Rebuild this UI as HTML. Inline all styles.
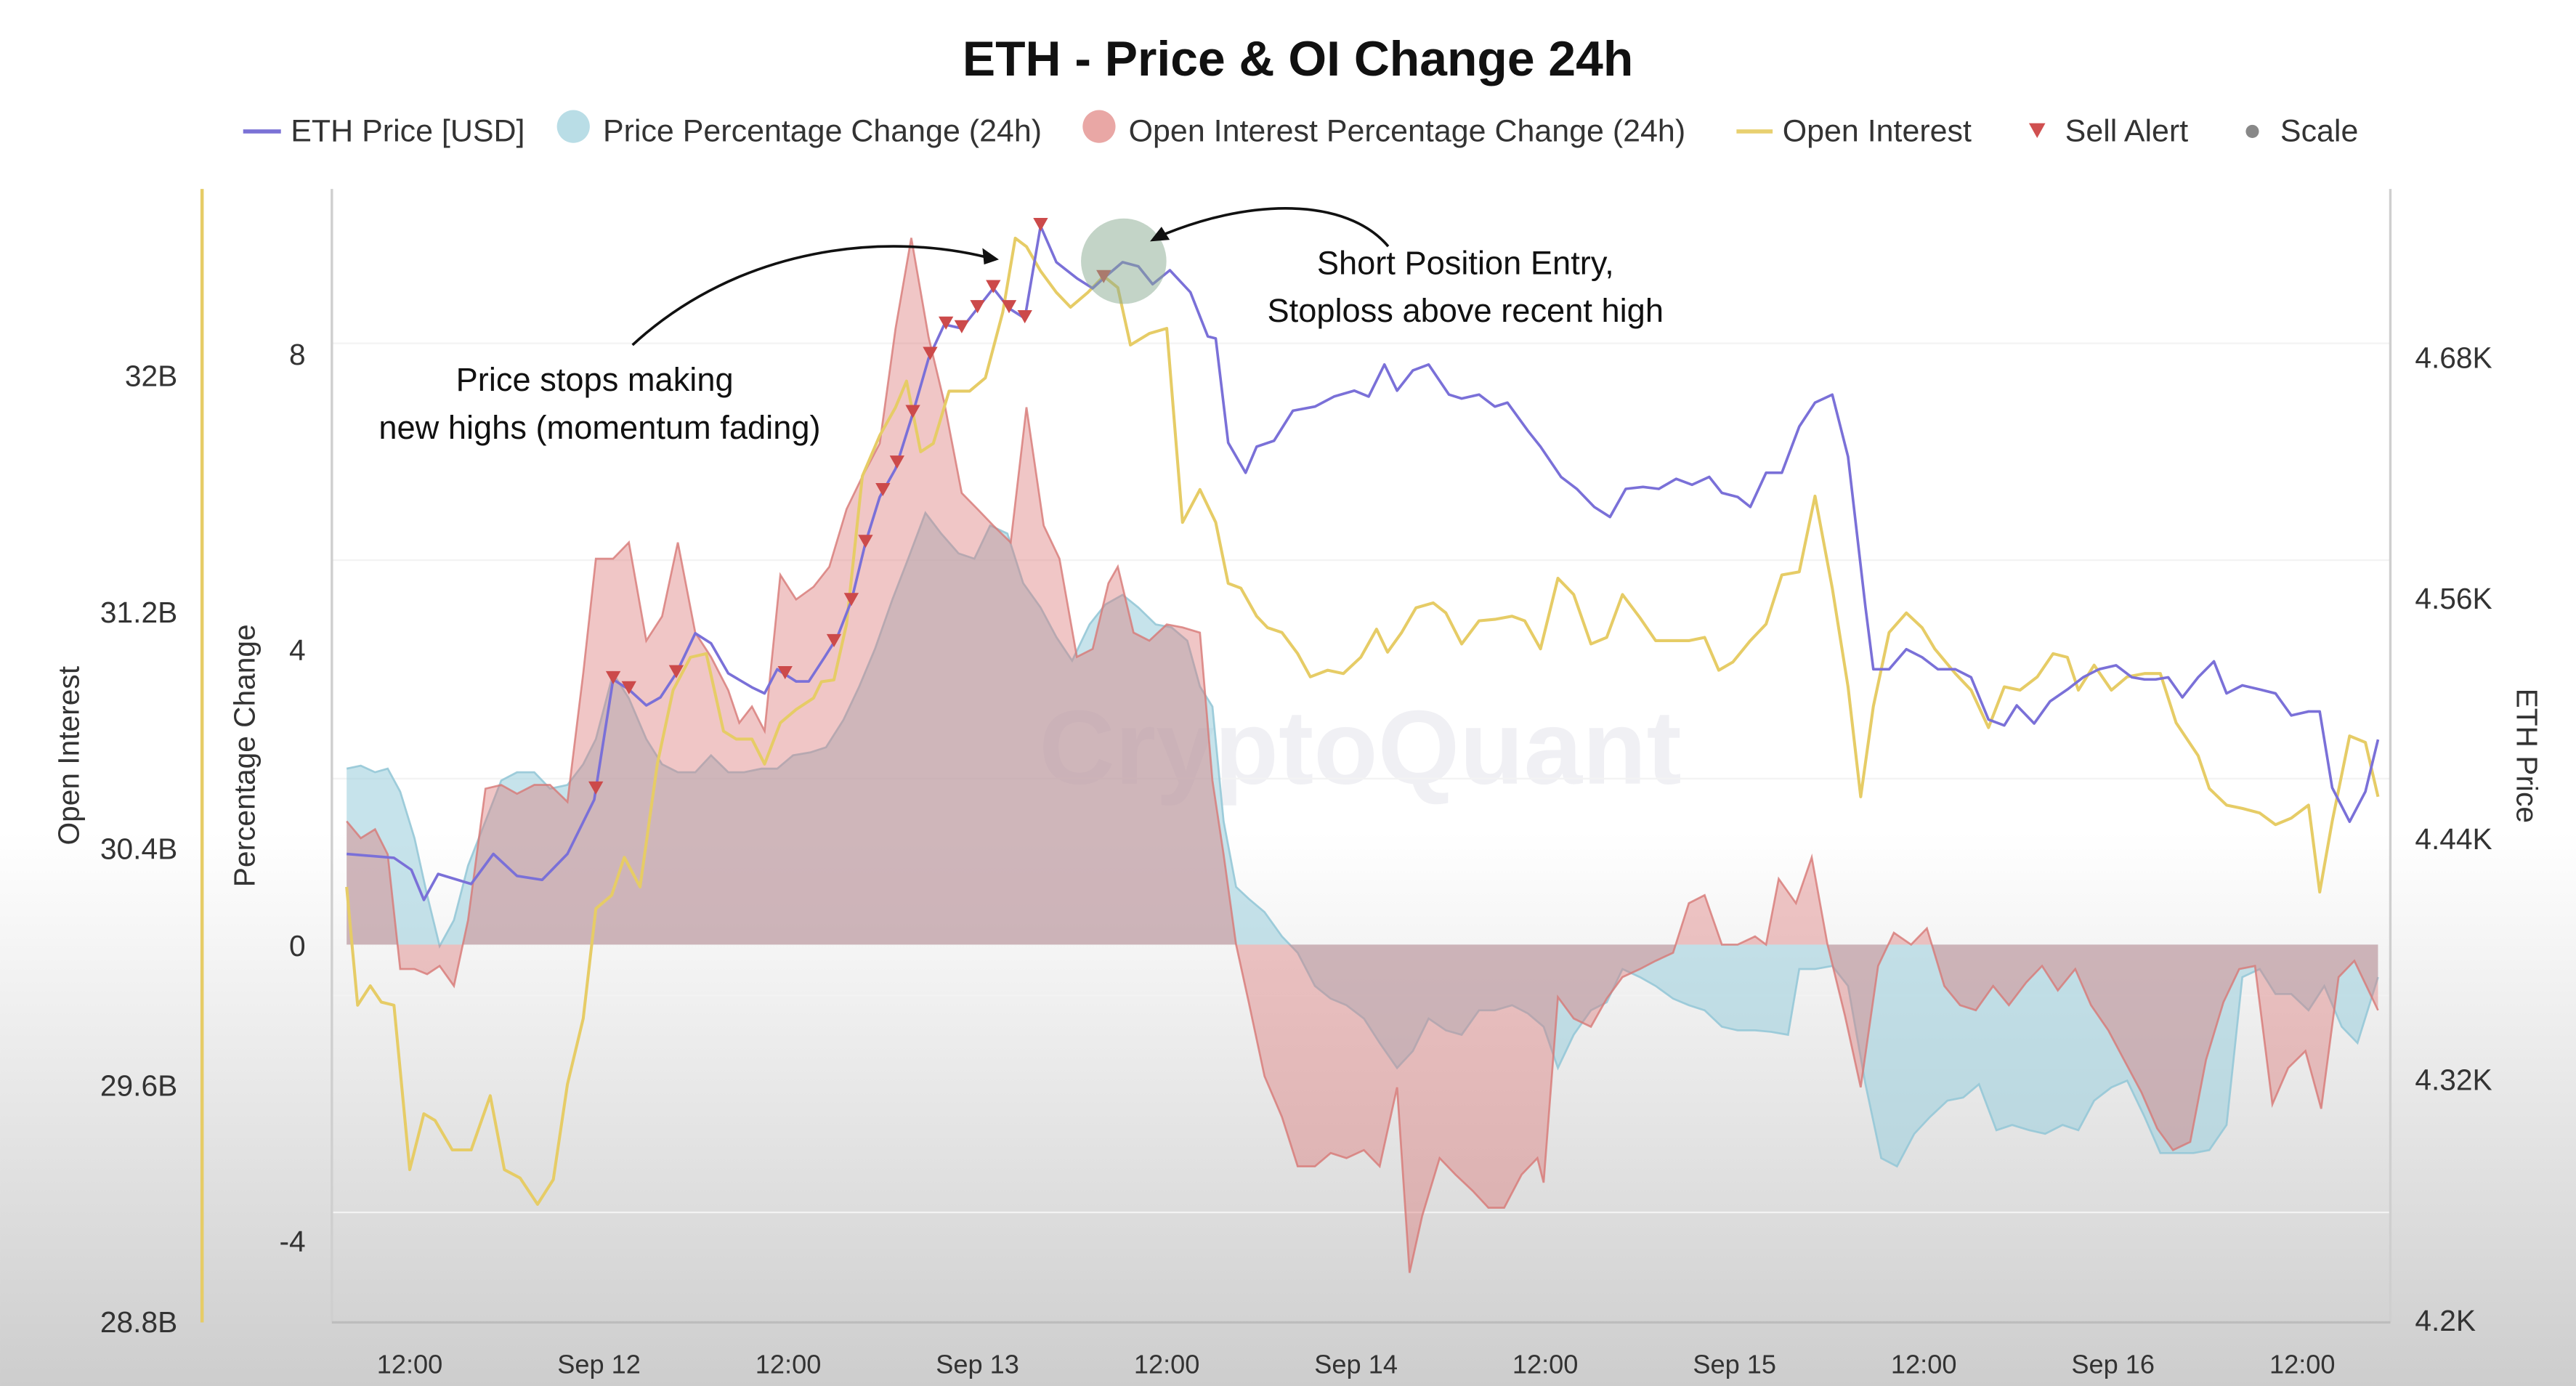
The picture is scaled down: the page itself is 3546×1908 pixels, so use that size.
<!DOCTYPE html>
<html><head><meta charset="utf-8"><style>
html,body{margin:0;padding:0;background:#fff;}
svg{display:block;font-family:"Liberation Sans","DejaVu Sans",sans-serif;}
</style></head><body>
<svg id="chart" width="3546" height="1908" viewBox="0 0 1568 843.7" xmlns="http://www.w3.org/2000/svg">
<defs>
<linearGradient id="bg" x1="0" y1="0" x2="0" y2="1">
<stop offset="0" stop-color="#ffffff"/><stop offset="0.6" stop-color="#ffffff"/><stop offset="0.72" stop-color="#f0f0f0"/><stop offset="1" stop-color="#cdcdcd"/>
</linearGradient>
</defs>
<rect x="0" y="0" width="1568" height="844" fill="url(#bg)"/>
<text x="790" y="46" text-anchor="middle" font-size="30" font-weight="bold" fill="#111">ETH - Price &amp; OI Change 24h</text>
<g id="legend" font-size="19" fill="#333">
<g><line x1="148" y1="80" x2="171" y2="80" stroke="#7b72d6" stroke-width="2.5"/><text x="177" y="86">ETH Price [USD]</text></g>
<g><circle cx="349" cy="77" r="10" fill="#b9dde6"/><text x="367" y="86">Price Percentage Change (24h)</text></g>
<g><circle cx="669" cy="77" r="10" fill="#e9a7a5"/><text x="687" y="86">Open Interest Percentage Change (24h)</text></g>
<g><line x1="1057" y1="80" x2="1079" y2="80" stroke="#e8d070" stroke-width="2.5"/><text x="1085" y="86">Open Interest</text></g>
<g><path d="M1235,75 L1245,75 L1240,84 Z" fill="#d05050"/><text x="1257" y="86">Sell Alert</text></g>
<g><circle cx="1371" cy="80" r="4" fill="#888"/><text x="1388" y="86">Scale</text></g>
</g>
<text x="828" y="477" text-anchor="middle" font-size="64" font-weight="bold" fill="#dcdce4" opacity="0.4">CryptoQuant</text>
<g id="grid"></g>
<g id="areas"></g>
<g id="lines"></g>
<g id="axes" font-size="18" fill="#333"></g>
<g>
<path d="M385,210 C450,150 540,140 606,158" fill="none" stroke="#111" stroke-width="1.6"/>
<path d="M608,158 L598,151 L599,161 Z" fill="#111"/>
<text x="362" y="238" text-anchor="middle" font-size="20" fill="#111">Price stops making</text>
<text x="365" y="267" text-anchor="middle" font-size="20" fill="#111">new highs (momentum fading)</text>
</g>
<g>
<circle cx="684" cy="159" r="26" fill="#88aa90" opacity="0.5"/>
<path d="M845,150 C820,120 760,120 703,145" fill="none" stroke="#111" stroke-width="1.6"/>
<path d="M700,147 L712,146 L707,138 Z" fill="#111"/>
<text x="892" y="167" text-anchor="middle" font-size="20" fill="#111">Short Position Entry,</text>
<text x="892" y="196" text-anchor="middle" font-size="20" fill="#111">Stoploss above recent high</text>
</g>
</svg>
<script>
// ---- data (hours since Sep 11 08:00) ----
const priceHours=[0,3.0,4.1,4.9,5.8,7.9,9.3,10.8,12.4,14.0,15.7,16.9,17.9,19.0,19.9,20.9,22.1,23.1,24.2,25.7,26.5,27.3,28.5,29.3,30.3,31.1,32.0,32.9,33.8,34.8,35.8,36.9,37.9,39.0,40.0,41.0,42.0,43.0,44.0,45.0,46.3,47.3,48.0,49.2,50.2,51.1,52.2,53.5,54.6,55.1,55.9,57.0,57.7,58.8,60.0,61.4,62.6,63.9,64.8,65.8,66.6,67.6,68.6,69.9,70.7,71.8,72.8,73.6,74.9,75.7,77.0,78.0,79.1,80.1,81.1,82.2,83.2,84.3,85.3,86.4,87.2,88.2,89.0,90.0,91.0,92.1,93.1,94.2,95.2,96.3,96.8,97.8,98.9,99.9,100.9,102.0,103.0,104.1,105.1,105.9,107.0,108.0,109.1,110.1,111.1,112.2,113.2,114.0,114.7,115.5,116.4,117.4,118.4,119.2,120.2,121.3,122.3,123.3,124.4,125.1,125.9,127.0,128.0,128.8];
const priceValues=[4432,4430,4424,4409,4422,4417,4432,4421,4419,4432,4459,4519,4514,4506,4510,4522,4542,4537,4522,4515,4512,4524,4518,4518,4530,4540,4558,4587,4610,4624,4649,4679,4696,4694,4704,4714,4704,4699,4745,4727,4719,4714,4719,4727,4725,4716,4723,4712,4690,4689,4637,4622,4635,4638,4653,4655,4660,4663,4660,4676,4663,4673,4676,4661,4659,4661,4655,4657,4643,4635,4620,4614,4605,4600,4614,4615,4614,4619,4616,4620,4612,4610,4605,4622,4622,4645,4657,4661,4630,4555,4524,4524,4534,4530,4524,4524,4520,4499,4496,4506,4497,4508,4514,4520,4524,4526,4520,4519,4519,4520,4510,4520,4528,4512,4516,4514,4512,4501,4503,4503,4465,4448,4463,4489];
const oiHours=[0,0.7,1.5,2.2,3.0,4.0,4.9,5.6,6.7,7.9,9.1,10.0,11.0,12.1,13.1,14.0,15.0,15.8,16.8,17.6,18.6,19.7,20.7,21.8,22.8,23.9,24.7,25.7,26.5,27.5,28.5,29.6,30.1,30.9,31.7,32.7,33.8,34.8,35.5,36.4,37.2,38.2,39.5,40.5,41.6,42.4,43.1,44.0,45.0,45.9,47.0,48.0,48.9,49.7,50.9,52.0,53.0,54.1,55.1,55.9,56.7,57.7,58.4,59.3,60.3,61.1,62.2,63.2,64.3,65.3,66.0,66.9,67.8,68.9,69.7,70.7,71.8,72.8,73.9,74.7,75.7,76.8,77.8,78.9,79.9,80.9,82.0,83.0,84.1,85.1,86.1,87.0,87.9,89.0,90.0,91.0,92.1,93.1,94.2,95.2,96.0,96.8,97.8,98.9,99.9,100.7,102.0,103.0,104.1,105.1,106.1,107.2,108.2,109.1,109.8,110.8,111.9,112.9,114.0,115.0,116.0,117.4,118.1,119.2,120.2,121.3,122.3,123.3,124.4,125.1,125.9,127.0,128.0,128.8];
const oiValues=[30.267,29.867,29.933,29.878,29.867,29.311,29.5,29.478,29.378,29.378,29.561,29.311,29.283,29.194,29.278,29.6,29.822,30.194,30.239,30.367,30.267,30.683,30.933,31.044,31.056,30.794,30.767,30.767,30.683,30.822,30.867,30.906,30.961,30.967,31.156,31.656,31.794,31.889,31.978,31.739,31.767,31.944,31.944,31.989,32.211,32.461,32.433,32.35,32.278,32.228,32.278,32.333,32.294,32.1,32.139,32.156,31.5,31.611,31.5,31.294,31.278,31.183,31.144,31.128,31.056,30.978,31.0,30.989,31.044,31.139,31.061,31.128,31.211,31.228,31.194,31.089,31.167,31.172,31.183,31.167,31.072,31.311,31.256,31.089,31.111,31.256,31.178,31.1,31.1,31.1,31.111,31.0,31.028,31.1,31.156,31.322,31.333,31.589,31.278,30.944,30.572,30.878,31.128,31.194,31.144,31.072,30.989,30.933,30.806,30.944,30.933,30.978,31.056,31.044,30.933,31.017,30.933,30.978,30.989,30.989,30.822,30.711,30.6,30.544,30.533,30.517,30.478,30.5,30.544,30.25,30.489,30.778,30.756,30.572];
const pricePctHours=[0,0.9,1.8,2.6,3.4,4.3,5.1,5.9,6.8,7.7,8.8,9.8,10.8,11.9,12.9,14.0,15.0,15.8,16.9,17.9,19.0,20.0,21.0,22.1,23.1,24.2,25.2,26.3,27.3,28.3,29.4,30.4,31.5,32.5,33.5,34.6,35.6,36.7,37.7,38.8,39.8,40.8,41.9,42.9,44.0,45.0,46.0,47.1,48.1,49.2,50.2,51.3,52.3,53.3,54.1,54.9,55.6,56.4,57.2,58.2,59.3,60.3,61.4,62.4,63.4,64.5,65.5,66.6,67.6,68.6,69.7,70.7,71.8,72.8,73.9,74.9,75.9,76.8,77.8,78.9,79.9,80.9,82.0,83.0,84.1,85.1,86.1,87.2,88.2,89.3,90.3,91.4,92.1,93.1,94.2,95.2,96.3,97.3,98.3,99.4,100.4,101.5,102.5,103.5,104.6,105.6,106.7,107.7,108.8,109.8,110.8,111.9,112.9,114.0,115.0,116.0,117.1,118.1,119.2,120.2,121.3,122.3,123.3,124.4,125.4,126.5,127.5,128.8];
const pricePctValues=[2.38,2.42,2.33,2.38,2.07,1.44,0.67,-0.02,0.33,1.07,1.67,2.22,2.33,2.33,2.11,2.16,2.44,2.78,3.67,3.33,2.78,2.44,2.33,2.33,2.56,2.33,2.33,2.38,2.38,2.56,2.6,2.67,3.04,3.49,4.0,4.67,5.22,5.84,5.56,5.29,5.22,5.67,5.56,4.89,4.56,4.16,3.84,4.33,4.6,4.73,4.56,4.33,4.29,4.11,3.49,3.22,1.67,0.78,0.62,0.44,0.11,-0.11,-0.56,-0.73,-0.82,-1.0,-1.33,-1.67,-1.44,-1.0,-1.16,-1.22,-0.89,-0.89,-0.82,-0.93,-1.11,-1.67,-1.22,-0.89,-0.78,-0.33,-0.44,-0.56,-0.73,-0.82,-0.89,-1.11,-1.16,-1.16,-1.18,-1.22,-0.33,-0.33,-0.29,-0.56,-1.89,-2.89,-3.0,-2.56,-2.33,-2.11,-2.07,-1.89,-2.51,-2.44,-2.51,-2.56,-2.44,-2.51,-2.11,-1.93,-1.84,-2.33,-2.82,-2.82,-2.82,-2.78,-2.44,-0.44,-0.33,-0.67,-0.67,-0.89,-0.56,-1.11,-1.33,-0.44];
const oiPctHours=[0,0.9,1.8,2.6,3.4,4.3,5.1,5.9,6.8,7.7,8.8,9.8,10.8,11.9,12.9,14.0,15.0,15.8,16.9,17.9,19.0,20.0,21.0,22.1,23.1,24.2,24.9,25.7,26.5,27.5,28.5,29.6,30.6,31.7,32.7,33.8,34.8,35.8,36.9,37.9,39.0,40.0,41.0,42.1,43.1,44.2,45.2,46.3,47.3,48.3,48.9,49.9,50.9,52.0,53.0,54.1,54.9,55.6,56.4,57.2,58.2,59.3,60.3,61.4,62.4,63.4,64.5,65.5,66.6,67.4,68.2,69.3,70.3,71.4,72.4,73.4,74.5,75.5,75.9,76.8,77.8,78.9,79.9,80.9,82.0,83.0,84.1,85.1,86.1,87.2,88.2,89.3,90.0,90.8,91.9,92.9,93.9,95.0,96.0,97.1,98.1,99.2,100.2,101.3,102.3,103.3,104.4,105.4,106.5,107.5,108.5,109.6,110.6,111.7,112.7,113.8,114.8,115.8,116.9,117.9,119.0,120.0,121.0,122.1,123.1,124.2,125.2,126.3,127.3,128.8];
const oiPctValues=[1.67,1.44,1.56,1.22,-0.33,-0.33,-0.4,-0.29,-0.56,0.33,2.11,2.16,2.04,2.16,2.16,1.93,3.67,5.22,5.22,5.44,4.11,4.44,5.44,4.22,3.89,3.44,3.0,3.22,2.89,5.0,4.67,4.84,5.11,5.89,6.33,6.78,8.33,9.56,8.22,7.33,6.11,5.89,5.67,5.44,7.27,5.67,5.22,3.89,4.0,4.89,5.11,4.22,4.11,4.33,4.29,4.22,2.22,1.22,0,-0.78,-1.78,-2.33,-3.0,-3.0,-2.82,-2.89,-2.78,-3.0,-1.93,-4.44,-3.67,-2.89,-3.11,-3.33,-3.56,-3.56,-3.11,-2.89,-3.22,-0.71,-1.0,-1.11,-0.73,-0.44,-0.33,-0.22,-0.11,0.56,0.67,0,0,0.11,0,0.89,0.56,1.18,0,-0.96,-1.93,-0.29,0.16,0,0.22,-0.56,-0.82,-0.89,-0.56,-0.82,-0.51,-0.29,-0.62,-0.33,-0.82,-1.16,-1.56,-2.0,-2.49,-2.78,-2.67,-1.56,-0.78,-0.33,-0.29,-2.16,-1.67,-1.44,-2.22,-0.44,-0.22,-0.89];
const sellAlertHours=[15.8,16.9,17.9,20.9,27.8,30.9,32.0,32.9,34.0,34.9,35.9,37.0,38.0,39.0,40.0,41.0,42.0,43.0,44.0,48.0];
const xTickHours=[4,16,28,40,52,64,76,88,100,112,124];
const xTickLabels=["12:00","Sep 12","12:00","Sep 13","12:00","Sep 14","12:00","Sep 15","12:00","Sep 16","12:00"];
const pctTicks=[8,4,0,-4];
const priceTicks=[4680,4560,4440,4320,4200];
const priceTickLabels=["4.68K","4.56K","4.44K","4.32K","4.2K"];
const oiTicks=[32,31.2,30.4,29.6,28.8];
const oiTickLabels=["32B","31.2B","30.4B","29.6B","28.8B"];

// ---- scales ----
const NS="http://www.w3.org/2000/svg";
const X0=211, PX_PER_H=9.6;
const xs=h=>X0+h*PX_PER_H;
const yPct=v=>575-v*45;
const yPrice=v=>803-(v-4200)*146.5/120;
const yOI=v=>804-(v-28.8)*180;
function mk(tag,attrs,parent){const e=document.createElementNS(NS,tag);for(const k in attrs)e.setAttribute(k,attrs[k]);parent.appendChild(e);return e;}
const grid=document.getElementById('grid'),areas=document.getElementById('areas'),lines=document.getElementById('lines'),axes=document.getElementById('axes');

// gridlines
[209,341,474,606,738].forEach(y=>{const g=mk('line',{x1:202,x2:1455,y1:y,y2:y,stroke:'#f3f3f3','stroke-width':1},grid);

});

function pts(hs,vs,fy){return hs.map((h,i)=>xs(h).toFixed(1)+','+fy(vs[i]).toFixed(1));}
function area(hs,vs,fill,stroke,name){
  const p=pts(hs,vs,yPct);
  const d='M'+xs(hs[0])+','+yPct(0)+' L'+p.join(' L')+' L'+xs(hs[hs.length-1])+','+yPct(0)+' Z';
  const a=mk('path',{d:d,fill:fill,stroke:'none'},areas);
  
  
  const l=mk('polyline',{points:p.join(' '),fill:'none',stroke:stroke,'stroke-width':1.2},areas);
  
  
}
area(pricePctHours,pricePctValues,'rgba(160,208,222,0.6)','rgba(150,200,215,0.9)','price-pct-change');
area(oiPctHours,oiPctValues,'rgba(220,120,118,0.42)','rgba(215,120,118,0.8)','oi-pct-change');

const oiLine=mk('polyline',{points:pts(oiHours,oiValues,yOI).join(' '),fill:'none',stroke:'#e6cc66','stroke-width':1.8,'stroke-linejoin':'round'},lines);


const prLine=mk('polyline',{points:pts(priceHours,priceValues,yPrice).join(' '),fill:'none',stroke:'#7a70d8','stroke-width':1.6,'stroke-linejoin':'round'},lines);



function priceAt(h){for(let i=1;i<priceHours.length;i++){if(priceHours[i]>=h){const t=(h-priceHours[i-1])/(priceHours[i]-priceHours[i-1]);return priceValues[i-1]+t*(priceValues[i]-priceValues[i-1]);}}return priceValues[priceValues.length-1];}
sellAlertHours.forEach(h=>{const x=xs(h),y=yPrice(priceAt(h));
  const t=mk('path',{d:`M${x-4.5},${y-5} L${x+4.5},${y-5} L${x},${y+3} Z`,fill:'#cc4a4a'},lines);
  
  });

// axes lines
[[202,115,202,805,'#cfcfcf'],[1455,115,1455,805,'#cfcfcf'],[202,805,1455,805,'#bdbdbd'],[123,115,123,805,'#e6cc66']].forEach(a=>{
  const l=mk('line',{x1:a[0],y1:a[1],x2:a[2],y2:a[3],stroke:a[4],'stroke-width':a[4]=='#e6cc66'?2:1.5},axes);
  
  });
xTickHours.forEach((h,i)=>{const t=mk('text',{x:xs(h),y:836,'text-anchor':'middle','font-size':16},axes);t.textContent=xTickLabels[i];
  
  });
pctTicks.forEach(v=>{const t=mk('text',{x:186,y:yPct(v)+7,'text-anchor':'end'},axes);t.textContent=v;
  
  });
priceTicks.forEach((v,i)=>{const t=mk('text',{x:1470,y:yPrice(v)+7,'text-anchor':'start'},axes);t.textContent=priceTickLabels[i];
  
  });
oiTicks.forEach((v,i)=>{const t=mk('text',{x:108,y:yOI(v)+7,'text-anchor':'end'},axes);t.textContent=oiTickLabels[i];
  
  });
[['Open Interest',48,460,-90,'oi-axis-title'],['Percentage Change',155,460,-90,'pct-axis-title'],['ETH Price',1532,460,90,'price-axis-title']].forEach(a=>{
  const t=mk('text',{x:a[1],y:a[2],'text-anchor':'middle',transform:`rotate(${a[3]} ${a[1]} ${a[2]})`},axes);t.textContent=a[0];
  
  });
</script>
</body></html>
